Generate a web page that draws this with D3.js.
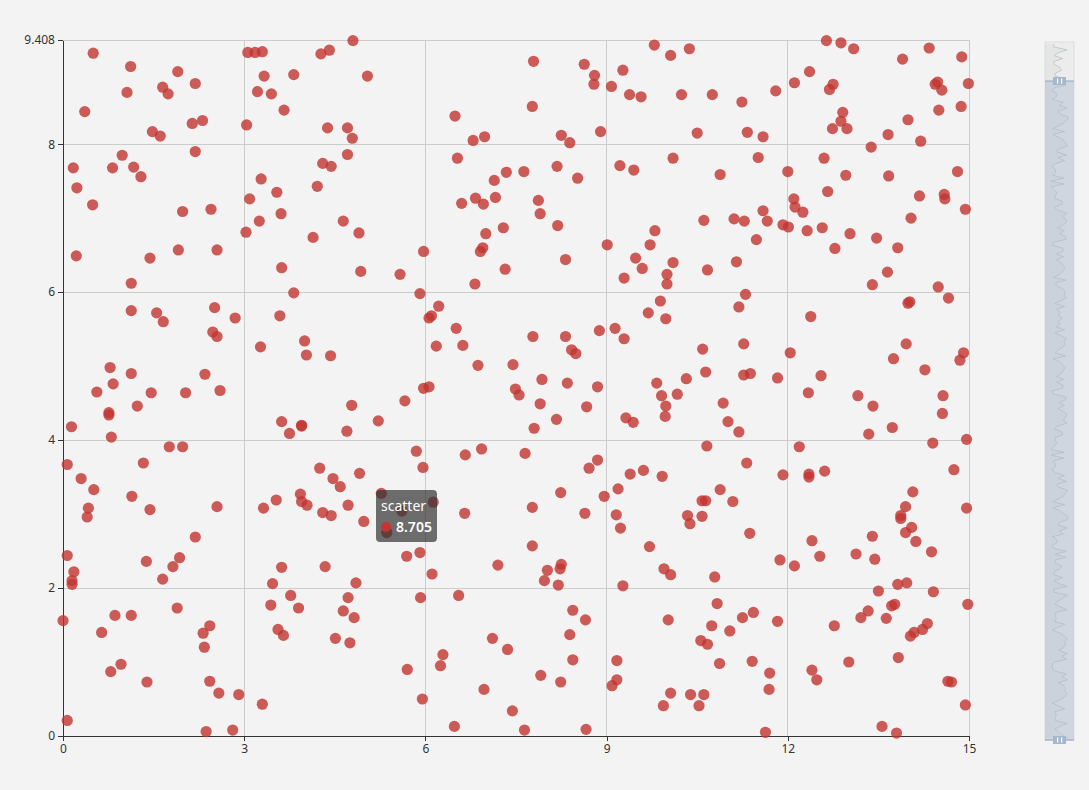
<!DOCTYPE html>
<html><head><meta charset="utf-8">
<script src="https://cdn.jsdelivr.net/npm/d3@7"></script>
<style>body{margin:0;background:#f3f3f3}svg{display:block}text{font-family:"Noto Sans",sans-serif}</style>
</head><body><svg id="c" width="1089" height="790"></svg>
<script>
const xValues = [
0.50,1.12,1.90,1.06,1.65,1.74,2.19,0.36,1.48,1.61,2.14,2.31,3.06,3.18,3.30,3.33,3.82,3.22,3.45,3.66,3.04,4.27,4.41,4.80,4.38,4.71,4.79,
0.17,0.23,0.49,0.22,0.98,0.82,1.17,1.29,1.98,2.45,1.91,2.55,1.44,2.19,3.28,3.09,3.54,3.25,3.61,3.03,4.30,4.44,4.71,4.21,4.64,4.90,4.14,
5.04,6.49,6.79,6.98,7.79,7.77,8.63,8.80,8.79,8.25,8.39,9.08,9.27,9.38,9.57,9.79,8.90,6.53,7.14,7.34,7.63,8.18,8.52,6.60,6.83,6.96,7.16,
7.87,7.90,8.19,7.29,7.00,6.95,6.91,5.97,8.32,9.01,9.22,9.45,9.80,9.72,9.48,
10.06,10.37,10.24,10.75,11.24,11.80,10.50,11.33,11.59,12.11,12.36,12.64,12.88,13.09,12.75,12.69,12.91,12.88,12.74,12.98,13.90,14.34,14.88,
14.48,14.44,14.55,14.99,14.87,14.50,13.99,13.66,14.20,13.38,10.10,10.88,11.51,12.00,12.60,12.96,13.67,14.81,12.66,12.10,12.12,12.25,14.18,
14.59,14.60,14.94,14.04,10.61,11.11,11.28,11.59,11.66,11.92,12.01,12.32,12.57,13.03,13.47,13.82,12.78,11.48,10.10,11.15,
3.62,4.93,1.13,1.13,1.55,1.66,2.51,2.85,2.48,2.55,3.82,3.59,3.27,4.00,4.03,4.43,0.78,1.13,0.83,0.56,1.46,2.03,2.35,2.60,1.23,0.76,0.76,
0.14,0.80,1.76,1.98,0.07,0.30,0.51,1.33,4.78,4.70,3.62,3.75,3.95,3.95,4.25,4.47,4.59,4.91,
5.58,6.82,7.32,5.91,6.22,6.10,6.06,6.51,6.18,6.62,6.87,7.45,7.78,8.32,8.42,8.49,8.88,9.14,9.29,9.29,9.59,10.00,10.00,9.89,9.69,9.98,
5.97,6.06,5.66,5.22,7.93,8.35,8.85,7.49,7.55,7.90,8.67,8.17,7.80,9.32,9.44,9.83,9.91,9.98,9.97,5.85,5.96,6.66,6.93,7.65,8.85,8.71,9.61,
9.39,9.92,9.19,
10.67,13.65,13.40,14.49,14.66,13.99,14.02,11.30,11.19,12.38,10.59,11.27,12.04,10.64,11.27,11.38,10.32,11.83,12.55,13.96,13.75,14.91,
14.85,14.27,10.17,12.34,13.16,13.41,10.93,11.01,11.19,13.73,13.34,14.57,14.56,14.96,14.40,10.66,12.19,11.32,11.92,12.35,12.35,12.61,
14.75,10.88,
1.14,3.93,1.44,0.42,0.40,2.55,2.19,0.07,0.18,0.15,0.15,1.38,1.93,1.82,1.65,3.32,3.53,3.95,4.04,4.30,4.44,4.72,4.98,3.62,3.47,4.34,4.85,
0.00,0.64,0.86,1.13,1.89,2.43,2.32,2.34,0.96,0.79,1.39,2.43,2.58,2.91,3.30,0.07,2.37,2.81,3.77,3.44,3.90,4.72,4.64,4.82,3.56,3.65,4.51,
4.75,
5.27,6.13,5.61,5.36,6.65,5.69,5.91,6.11,7.20,7.77,7.77,8.24,8.64,8.96,9.16,9.23,8.02,8.25,8.23,7.97,8.20,9.71,9.95,9.27,5.92,6.55,8.44,
8.65,8.39,7.11,7.36,6.29,6.25,5.70,8.44,7.91,8.24,6.97,5.95,7.44,6.48,7.64,8.66,9.17,9.17,9.09,9.94,
10.58,10.64,11.09,10.34,10.58,10.38,11.37,11.87,12.11,10.06,10.79,12.40,12.53,13.13,13.40,13.44,14.07,13.95,13.87,13.87,14.05,13.95,
14.12,14.38,14.96,13.82,13.97,13.50,14.41,14.98,10.02,10.83,10.74,11.25,11.43,11.04,11.83,10.56,10.67,10.87,11.41,11.70,11.69,10.06,
10.39,10.61,10.53,11.63,12.77,13.21,13.33,13.63,13.72,13.77,14.31,14.23,14.09,14.03,13.83,13.01,12.40,12.48,14.65,14.71,14.94,13.56,13.80
];
const yValues = [
9.23,9.05,8.98,8.70,8.77,8.68,8.82,8.44,8.17,8.11,8.28,8.32,9.24,9.24,9.25,8.92,8.94,8.71,8.68,8.46,8.26,9.22,9.27,9.40,8.22,8.22,8.08,
7.68,7.41,7.18,6.49,7.85,7.68,7.69,7.56,7.09,7.12,6.57,6.57,6.46,7.90,7.53,7.26,7.35,6.96,7.06,6.81,7.74,7.70,7.86,7.43,6.96,6.80,6.74,
8.92,8.38,8.05,8.10,9.12,8.51,9.08,8.93,8.81,8.12,8.02,8.78,9.00,8.67,8.64,9.34,8.17,7.81,7.51,7.62,7.63,7.70,7.54,7.20,7.27,7.19,7.28,
7.24,7.06,6.90,6.87,6.79,6.60,6.55,6.55,6.44,6.64,7.71,7.65,6.83,6.64,6.46,
9.20,9.29,8.67,8.67,8.57,8.72,8.15,8.16,8.10,8.83,8.98,9.40,9.37,9.29,8.81,8.74,8.43,8.31,8.21,8.21,9.15,9.30,9.18,
8.84,8.81,8.73,8.82,8.51,8.46,8.33,8.13,8.04,7.96,7.81,7.59,7.82,7.63,7.81,7.58,7.57,7.63,7.36,7.26,7.15,7.08,7.30,
7.32,7.26,7.12,7.00,6.97,6.99,6.96,7.10,6.96,6.91,6.88,6.83,6.87,6.79,6.73,6.60,6.59,6.71,6.40,6.41,
6.33,6.28,6.12,5.75,5.72,5.60,5.79,5.65,5.46,5.40,5.99,5.68,5.26,5.34,5.15,5.14,4.98,4.90,4.76,4.65,4.64,4.64,4.89,4.67,4.46,4.37,4.34,
4.18,4.04,3.91,3.91,3.67,3.48,3.33,3.69,4.47,4.12,4.25,4.09,4.20,4.19,3.62,3.48,3.37,3.55,
6.24,6.11,6.31,5.98,5.81,5.68,5.65,5.51,5.27,5.28,5.01,5.02,5.40,5.40,5.22,5.17,5.48,5.51,5.37,6.19,6.32,6.24,6.11,5.88,5.72,5.64,
4.70,4.72,4.53,4.26,4.82,4.77,4.72,4.69,4.61,4.49,4.45,4.28,4.16,4.30,4.24,4.77,4.60,4.46,4.32,3.85,3.63,3.80,3.88,3.82,3.73,3.62,3.59,
3.54,3.51,3.34,
6.30,6.27,6.10,6.07,5.92,5.85,5.87,5.97,5.80,5.67,5.23,5.30,5.18,4.92,4.88,4.90,4.83,4.84,4.87,5.30,5.10,5.18,
5.08,4.95,4.62,4.64,4.60,4.46,4.50,4.25,4.11,4.17,4.08,4.60,4.36,4.01,3.96,3.92,3.91,3.69,3.53,3.54,3.50,3.58,
3.60,3.33,
3.24,3.27,3.06,3.08,2.96,3.10,2.69,2.44,2.22,2.10,2.05,2.36,2.41,2.29,2.12,3.08,3.19,3.17,3.12,3.02,2.98,3.12,2.90,2.28,2.06,2.29,2.07,
1.56,1.40,1.63,1.63,1.73,1.49,1.39,1.20,0.97,0.87,0.73,0.74,0.58,0.56,0.43,0.21,0.06,0.08,1.90,1.77,1.73,1.87,1.69,1.60,1.44,1.36,1.32,
1.26,
3.28,3.16,3.04,2.75,3.01,2.43,2.48,2.19,2.31,3.09,2.57,3.29,3.01,3.24,2.99,2.81,2.24,2.32,2.26,2.10,2.04,2.56,2.26,2.03,1.87,1.90,1.70,
1.57,1.37,1.32,1.17,1.10,0.95,0.90,1.03,0.82,0.73,0.63,0.50,0.34,0.13,0.08,0.09,1.02,0.76,0.68,0.41,
3.18,3.18,3.17,2.98,2.97,2.87,2.74,2.38,2.30,2.18,2.15,2.64,2.43,2.46,2.70,2.39,3.30,3.10,2.98,2.94,2.82,2.75,
2.63,2.49,3.08,2.05,2.07,1.96,1.95,1.78,1.57,1.79,1.49,1.60,1.67,1.42,1.55,1.29,1.24,0.98,1.01,0.85,0.63,0.58,
0.56,0.56,0.41,0.05,1.49,1.60,1.69,1.59,1.76,1.78,1.52,1.44,1.40,1.35,1.06,1.00,0.89,0.76,0.74,0.73,0.42,0.13,0.04
];
const xTicks = [0, 3, 6, 9, 12, 15];
const yTicks = [0, 2, 4, 6, 8, 9.408];
const yMax = 9.408;
const seriesName = "scatter";
const tooltipValue = "8.705";
const zoomRange = [0, 94.4];

const svg = d3.select("#c");
svg.append("rect").attr("width", 1089).attr("height", 790).attr("fill", "#f3f3f3");

const x = d3.scaleLinear().domain([0, 15]).range([63, 969]);
const y = d3.scaleLinear().domain([0, yMax]).range([736, 40]);

// grid
const g = svg.append("g");
g.selectAll("line.h").data(yTicks.filter(d => d > 0)).join("line")
  .attr("x1", x(0)).attr("x2", x(15)).attr("y1", d => y(d)).attr("y2", d => y(d))
  .attr("stroke", "#ccc").attr("stroke-width", 1).attr("shape-rendering", "crispEdges");
g.selectAll("line.v").data(xTicks.filter(d => d > 0)).join("line")
  .attr("y1", y(0)).attr("y2", y(yMax)).attr("x1", d => x(d)).attr("x2", d => x(d))
  .attr("stroke", "#ccc").attr("stroke-width", 1).attr("shape-rendering", "crispEdges");

// axes
const yAxis = svg.append("g").attr("transform", `translate(${x(0)},0)`)
  .call(d3.axisLeft(y).tickValues(yTicks).tickSize(5).tickSizeOuter(0).tickPadding(3)
    .tickFormat(d => d === yMax ? "9.408" : String(d)));
const xAxis = svg.append("g").attr("transform", `translate(0,${y(0)})`)
  .call(d3.axisBottom(x).tickValues(xTicks).tickSize(5).tickSizeOuter(0).tickPadding(3)
    .tickFormat(d => String(d)));
[yAxis, xAxis].forEach(a => {
  a.select(".domain").attr("stroke", "#333").attr("shape-rendering", "crispEdges");
  a.selectAll(".tick line").attr("stroke", "#333").attr("shape-rendering", "crispEdges");
  a.selectAll("text").attr("fill", "#333").style("font-size", "12px").style("font-family", '"Noto Sans",sans-serif');
});

// points
const pts = d3.range(xValues.length).map(i => [xValues[i], yValues[i]]);
svg.append("g").selectAll("circle").data(pts).join("circle")
  .attr("cx", d => x(d[0])).attr("cy", d => y(d[1])).attr("r", 5.6)
  .attr("fill", "#c23531").attr("fill-opacity", 0.8);

// dataZoom slider (vertical) with data shadow of the series values
const sl = { x: 1045, w: 29, top: 42, bottom: 740 };
const sy = d3.scaleLinear().domain([0, 100]).range([sl.bottom, sl.top]);
svg.append("rect").attr("x", sl.x).attr("y", sl.top).attr("width", sl.w).attr("height", sl.bottom - sl.top)
  .attr("fill", "#ececec").attr("stroke", "#ddd");
const n = yValues.length;
const order = d3.range(0, n, 2).map(k => (k * k * 7 + k * 31) % n);
const m = order.length;
const sx = d3.scaleLinear().domain([0, 10]).range([sl.x + 6, sl.x + sl.w - 5]);
const shadowPts = order.map((idx, k) => [sx(yValues[idx]), sl.bottom - 2 - k / (m - 1) * (sl.bottom - sl.top - 4)]);
const area = [[sl.x, sl.bottom - 2]].concat(shadowPts).concat([[sl.x, sl.top + 2]]);
svg.append("path").attr("d", d3.line()(area)).attr("fill", "rgba(47,69,84,0.04)");
svg.append("path").attr("d", d3.line()(shadowPts)).attr("fill", "none")
  .attr("stroke", "#bcc1c7").attr("stroke-width", 0.8);
svg.append("rect").attr("x", sl.x).attr("y", sy(zoomRange[1])).attr("width", sl.w)
  .attr("height", sy(zoomRange[0]) - sy(zoomRange[1])).attr("fill", "rgba(167,183,204,0.4)");
zoomRange.forEach(v => {
  const yy = sy(v);
  svg.append("line").attr("x1", sl.x).attr("x2", sl.x + sl.w).attr("y1", yy).attr("y2", yy)
    .attr("stroke", "#a7b7cc").attr("stroke-width", 1.5);
  svg.append("rect").attr("x", sl.x + 8).attr("y", yy - 4).attr("width", 13).attr("height", 8)
    .attr("fill", "#a7b7cc");
  [sl.x + 12, sl.x + 16].forEach(bx => svg.append("rect").attr("x", bx).attr("y", yy - 2.5)
    .attr("width", 1.2).attr("height", 5).attr("fill", "#fff"));
});

// tooltip
const tt = svg.append("g").attr("transform", "translate(376,490)");
tt.append("rect").attr("width", 61).attr("height", 52).attr("rx", 4).attr("fill", "rgba(50,50,50,0.7)");
tt.append("text").attr("x", 5).attr("y", 21).attr("fill", "#fff").style("font-size", "14px").text(seriesName);
tt.append("circle").attr("cx", 10).attr("cy", 37).attr("r", 5).attr("fill", "#c23531");
tt.append("text").attr("x", 20).attr("y", 42).attr("fill", "#fff").style("font-size", "14px").style("font-weight", "600").text(tooltipValue);
</script>
</body></html>
